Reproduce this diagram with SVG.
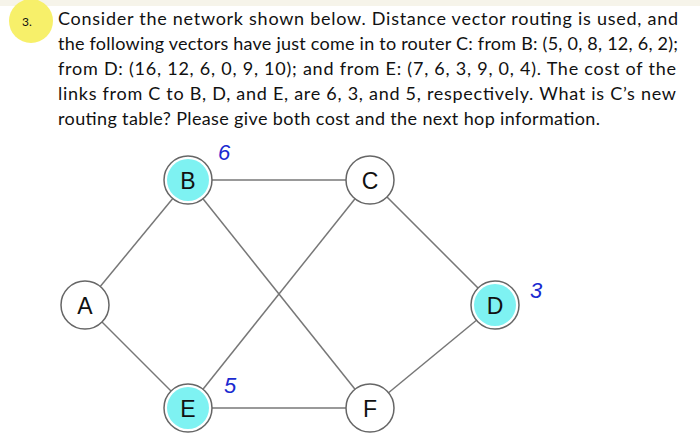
<svg xmlns="http://www.w3.org/2000/svg" width="700" height="448" viewBox="0 0 700 448">
<style>
.q{font-family:Lato,"Open Sans",sans-serif;font-size:18px;fill:#111}
.e{stroke:#777;stroke-width:1.5;fill:none}
.n{fill:#fff;stroke:#666;stroke-width:1.5}
.l{font-family:"Liberation Sans",Arial,sans-serif;font-size:23px;fill:#111;text-anchor:middle;dominant-baseline:central}
.h{font-family:"Liberation Sans",sans-serif;font-style:italic;font-size:22px;fill:#1a2ad0}
</style>
<rect width="700" height="448" fill="#fff"/>
<rect width="700" height="6" fill="#f6f4ea"/>
<circle cx="31" cy="21" r="22" fill="#f7f06a"/>
<text x="22" y="26" font-family="Lato,sans-serif" font-size="12" fill="#111">3.</text>
<text class="q" x="58" y="25" textLength="620">Consider the network shown below. Distance vector routing is used, and</text>
<text class="q" x="58" y="50" textLength="620">the following vectors have just come in to router C: from B: (5, 0, 8, 12, 6, 2);</text>
<text class="q" x="58" y="75" textLength="618">from D: (16, 12, 6, 0, 9, 10); and from E: (7, 6, 3, 9, 0, 4). The cost of the</text>
<text class="q" x="58" y="100" textLength="618">links from C to B, D, and E, are 6, 3, and 5, respectively. What is C’s new</text>
<text class="q" x="58" y="125" textLength="542">routing table? Please give both cost and the next hop information.</text>
<g id="edges">
<line class="e" x1="188" y1="180" x2="370" y2="180"/>
<line class="e" x1="188" y1="180" x2="85" y2="305"/>
<line class="e" x1="188" y1="180" x2="370" y2="408"/>
<line class="e" x1="370" y1="180" x2="188" y2="408"/>
<line class="e" x1="370" y1="180" x2="495" y2="305"/>
<line class="e" x1="85" y1="305" x2="188" y2="408"/>
<line class="e" x1="495" y1="305" x2="370" y2="408"/>
<line class="e" x1="188" y1="408" x2="370" y2="408"/>
</g>
<g id="B"><circle class="n" cx="188" cy="180" r="24"/><circle cx="188" cy="180" r="21" fill="#7ef2f2"/><text class="l" x="188" y="181">B</text></g>
<g id="C"><circle class="n" cx="370" cy="180" r="24"/><text class="l" x="370" y="181">C</text></g>
<g id="A"><circle class="n" cx="85" cy="305" r="24"/><text class="l" x="85" y="306">A</text></g>
<g id="D"><circle class="n" cx="495" cy="305" r="24"/><circle cx="495" cy="305" r="21" fill="#7ef2f2"/><text class="l" x="495" y="306">D</text></g>
<g id="E"><circle class="n" cx="188" cy="408" r="24"/><circle cx="188" cy="408" r="21" fill="#7ef2f2"/><text class="l" x="188" y="409">E</text></g>
<g id="F"><circle class="n" cx="370" cy="408" r="24"/><text class="l" x="370" y="409">F</text></g>
<text class="h" x="218" y="160">6</text>
<text class="h" x="530" y="298">3</text>
<text class="h" x="224" y="393">5</text>
</svg>
